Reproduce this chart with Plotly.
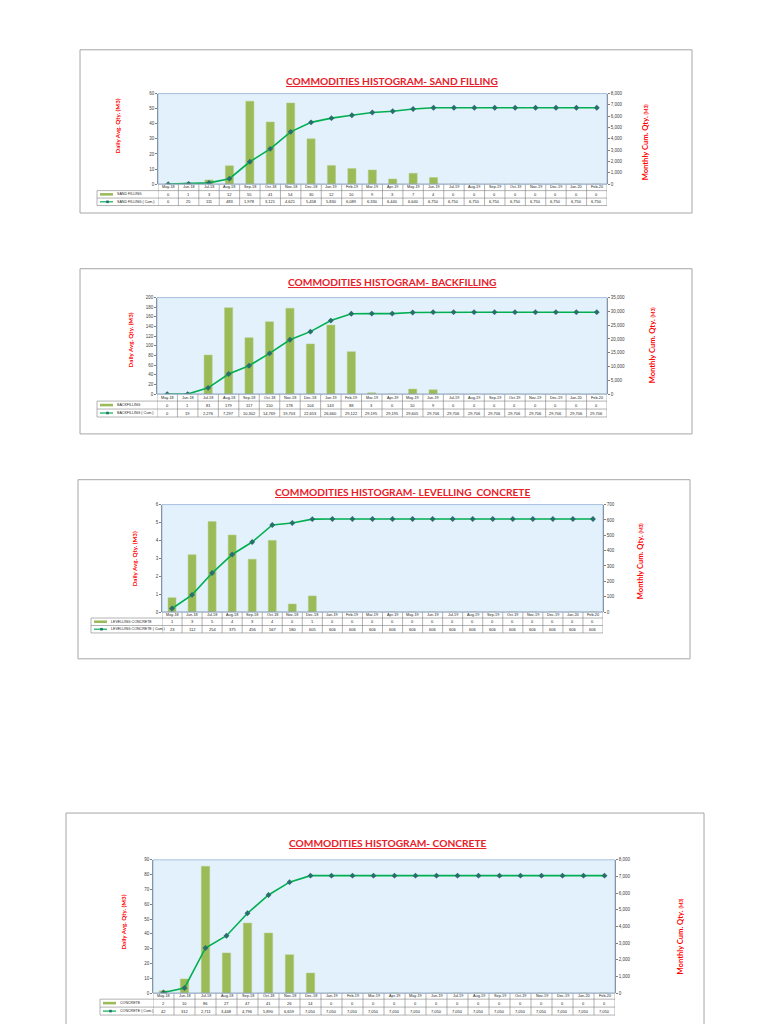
import plotly.graph_objects as go

W, H = 768, 1024
OFF = 8  # page body margin of the html page

months = ["May-18", "Jun-18", "Jul-18", "Aug-18", "Sep-18", "Oct-18", "Nov-18", "Dec-18",
          "Jan-19", "Feb-19", "Mar-19", "Apr-19", "May-19", "Jun-19", "Jul-19", "Aug-19",
          "Sep-19", "Oct-19", "Nov-19", "Dec-19", "Jan-20", "Feb-20"]

sand_daily = [0, 0.8, 2.8, 12.2, 55, 41.2, 53.8, 30, 12.4, 10.4, 9.4, 3.4, 7.2, 4.4,
              0, 0, 0, 0, 0, 0, 0, 0]
sand_cum = [0, 25, 111, 483, 1978, 3121, 4621, 5458, 5830, 6089, 6330, 6440, 6640, 6750,
            6750, 6750, 6750, 6750, 6750, 6750, 6750, 6750]

backfill_daily = [0, 0.6, 81, 179, 117, 150, 178, 104, 143, 88, 2.6, 0, 10.4, 9,
                  0.4, 0, 0, 0, 0, 0, 0, 0]
backfill_cum = [0, 19, 2276, 7297, 10302, 14769, 19703, 22653, 26660, 29122, 29195, 29195,
                29605, 29706, 29706, 29706, 29706, 29706, 29706, 29706, 29706, 29706]

level_daily = [0.8, 3.2, 5.05, 4.3, 2.95, 4.0, 0.45, 0.9, 0, 0, 0, 0, 0, 0,
               0, 0, 0, 0, 0, 0, 0, 0]
level_cum = [23, 112, 254, 375, 456, 567, 580, 605, 606, 606, 606, 606, 606, 606,
             606, 606, 606, 606, 606, 606, 606, 606]

concrete_daily = [1.6, 9.6, 85.6, 27.2, 47.3, 40.6, 26.0, 13.6, 0, 0, 0, 0, 0, 0,
                  0, 0, 0, 0, 0, 0, 0, 0]
concrete_cum = [42, 312, 2711, 3448, 4796, 5890, 6659, 7050, 7050, 7050, 7050, 7050, 7050, 7050,
                7050, 7050, 7050, 7050, 7050, 7050, 7050, 7050]

names = ["SAND FILLING", "BACKFILLING", "LEVELLING CONCRETE", "CONCRETE"]
titles = ["COMMODITIES HISTOGRAM- SAND FILLING", "COMMODITIES HISTOGRAM- BACKFILLING",
          "COMMODITIES HISTOGRAM- LEVELLING  CONCRETE", "COMMODITIES HISTOGRAM- CONCRETE"]
daily_series = [sand_daily, backfill_daily, level_daily, concrete_daily]
cum_series = [sand_cum, backfill_cum, level_cum, concrete_cum]
left_ranges = [(60, 10), (200, 20), (6, 1), (90, 10)]
right_ranges = [(8000, 1000), (35000, 5000), (700, 100), (8000, 1000)]

# layout geometry in screen pixels
boxes = [(80, 48, 692, 212), (80, 268, 692, 434), (78, 480, 690, 660), (66, 815, 704, 1034)]
title_pos = [(392, 79), (392, 281), (402, 492), (388, 845)]
plots = [(158, 92, 607, 183), (157, 297, 607, 394), (162, 505, 603, 613), (153, 862, 615, 996)]
table_left = [97, 97, 91, 100]
row_hdr = [6.5, 7, 6, 6]
row_h = [7.5, 8, 7.5, 8]
ltitle_pos = [(117, 125), (130, 340), (134, 560), (124, 925)]
rtitle_pos = [(645, 141), (652, 345), (640, 562), (680, 939)]

BAR = "#9BBB59"
LINE = "#00B050"
MARK = "#2B6E6E"
RED = "#E8202A"
AXC = "#808080"
GRID = "#7F7F7F"
TXT = "#222222"
TICKF = dict(family="Liberation Sans", size=4.5, color="#404040")
TFONT = "Liberation Sans"

fig = go.Figure()
shapes, annotations = [], []
layout = dict(width=W, height=H, margin=dict(l=0, r=0, t=0, b=0),
              paper_bgcolor="white", plot_bgcolor="#E3F1FC", showlegend=False,
              bargap=0.6)


def fx(px):
    return (px - OFF) / W


def fy(py):
    return 1 - (py - OFF) / H


def fmt(v):
    return f"{v:,.0f}"


def pline(x0, y0, x1, y1, xref="paper", color=GRID, width=0.6):
    shapes.append(dict(type="line", xref=xref, yref="paper", x0=x0, x1=x1,
                       y0=fy(y0), y1=fy(y1), line=dict(color=color, width=width)))


for k in range(4):
    xa = "x" if k == 0 else f"x{k + 1}"
    yl_n, yr_n = 2 * k + 1, 2 * k + 2
    yl = "y" if yl_n == 1 else f"y{yl_n}"
    yr = f"y{yr_n}"
    l, t, r, b = plots[k]

    fig.add_trace(go.Bar(x=months, y=daily_series[k], xaxis=xa, yaxis=yl,
                         marker=dict(color=BAR, line=dict(color="#B5CC80", width=0.5)),
                         name=names[k]))
    fig.add_trace(go.Scatter(x=months, y=cum_series[k], xaxis=xa, yaxis=yr, mode="lines+markers",
                             line=dict(color=LINE, width=1.6),
                             marker=dict(symbol="diamond", size=4.5, color=MARK),
                             name=names[k] + " ( Cum.)"))

    xkey = "xaxis" if k == 0 else f"xaxis{k + 1}"
    layout[xkey] = dict(domain=[fx(l), fx(r)], anchor=yl, range=[-0.5, 21.5],
                        showticklabels=False, showgrid=False, zeroline=False,
                        showline=False, ticks="", type="category")
    lmax, ld = left_ranges[k]
    rmax, rd = right_ranges[k]
    layout["yaxis" if yl_n == 1 else f"yaxis{yl_n}"] = dict(
        domain=[fy(b), fy(t)], anchor=xa, range=[0, lmax], dtick=ld, tick0=0,
        showgrid=False, zeroline=False, showline=True, linecolor=AXC, linewidth=0.6,
        ticks="outside", ticklen=2, tickwidth=0.6, tickcolor=AXC, tickfont=TICKF,
        tickformat=",")
    layout[f"yaxis{yr_n}"] = dict(
        overlaying=yl, side="right", anchor=xa, range=[0, rmax], dtick=rd, tick0=0,
        showgrid=False, zeroline=False, showline=True, linecolor=AXC, linewidth=0.6,
        ticks="outside", ticklen=2, tickwidth=0.6, tickcolor=AXC, tickfont=TICKF,
        tickformat=",")

    # ---- data table (grid + text) ----
    tl = table_left[k]
    hh, rh = row_hdr[k], row_h[k]
    y_h0, y_r1, y_r2, y_end = b, b + hh, b + hh + rh, b + hh + 2 * rh
    xref = xa
    pline(fx(l), y_h0, fx(r), y_h0)
    for yy in (y_r1, y_r2, y_end):
        pline(fx(tl), yy, fx(r), yy)
    for i in range(23):
        shapes.append(dict(type="line", xref=xref, yref="paper", x0=i - 0.5, x1=i - 0.5,
                           y0=fy(y_h0), y1=fy(y_end), line=dict(color=GRID, width=0.6)))
    pline(fx(tl), y_r1, fx(tl), y_end)

    for i, m in enumerate(months):
        annotations.append(dict(text=m, x=m, y=fy((y_h0 + y_r1) / 2), xref=xref, yref="paper",
                                xanchor="center", yanchor="middle", showarrow=False,
                                font=dict(family=TFONT, size=3.8, color=TXT)))
        annotations.append(dict(text=fmt(daily_series[k][i]), x=m, y=fy((y_r1 + y_r2) / 2),
                                xref=xref, yref="paper", xanchor="center", yanchor="middle",
                                showarrow=False, font=dict(family=TFONT, size=4, color=TXT)))
        annotations.append(dict(text=fmt(cum_series[k][i]), x=m, y=fy((y_r2 + y_end) / 2),
                                xref=xref, yref="paper", xanchor="center", yanchor="middle",
                                showarrow=False, font=dict(family=TFONT, size=4, color=TXT)))

    c1 = (y_r1 + y_r2) / 2
    c2 = (y_r2 + y_end) / 2
    shapes.append(dict(type="rect", xref="paper", yref="paper", x0=fx(tl + 3), x1=fx(tl + 16),
                       y0=fy(c1 + 1.3), y1=fy(c1 - 1.3), fillcolor=BAR, line=dict(width=0)))
    pline(fx(tl + 3), c2, fx(tl + 16), c2, color=LINE, width=1.2)
    shapes.append(dict(type="rect", xref="paper", yref="paper", x0=fx(tl + 9.2), x1=fx(tl + 11.8),
                       y0=fy(c2 + 1.3), y1=fy(c2 - 1.3), fillcolor=MARK, line=dict(width=0)))
    annotations.append(dict(text=names[k], x=fx(tl + 18), y=fy(c1), xref="paper", yref="paper",
                            xanchor="left", yanchor="middle", showarrow=False,
                            font=dict(family=TFONT, size=3.6, color=TXT)))
    annotations.append(dict(text=names[k] + " ( Cum.)", x=fx(tl + 18), y=fy(c2), xref="paper",
                            yref="paper", xanchor="left", yanchor="middle", showarrow=False,
                            font=dict(family=TFONT, size=3.6, color=TXT)))

    shapes.append(dict(type="rect", xref="paper", yref="paper", x0=fx(l), x1=fx(r),
                       y0=fy(b), y1=fy(t), line=dict(color="#95B3D7", width=0.8)))
    bl, bt, br, bb = boxes[k]
    shapes.append(dict(type="rect", xref="paper", yref="paper", x0=fx(bl), x1=fx(br),
                       y0=fy(bb), y1=fy(bt), line=dict(color="#A6A6A6", width=1)))

    tx, ty = title_pos[k]
    annotations.append(dict(text=f"<b><u>{titles[k]}</u></b>", x=fx(tx), y=fy(ty),
                            xref="paper", yref="paper", xanchor="center", yanchor="middle",
                            showarrow=False, font=dict(family="Lato", size=10.2, color=RED)))
    lx, ly = ltitle_pos[k]
    annotations.append(dict(text="<b>Daily Avg. Qty. (M3)</b>", x=fx(lx), y=fy(ly),
                            xref="paper", yref="paper", xanchor="center", yanchor="middle",
                            textangle=-90, showarrow=False,
                            font=dict(family="Lato", size=6.2, color="#FF0000")))
    rx, ry = rtitle_pos[k]
    annotations.append(dict(text="<b>Monthly Cum. Qty. <span style='font-size:4.8px'>(M3)</span></b>",
                            x=fx(rx), y=fy(ry), xref="paper", yref="paper", xanchor="center",
                            yanchor="middle", textangle=-90, showarrow=False,
                            font=dict(family="Lato", size=7.6, color="#FF0000")))

layout["shapes"] = shapes
layout["annotations"] = annotations
fig.update_layout(**layout)
fig.write_html("out.html")
